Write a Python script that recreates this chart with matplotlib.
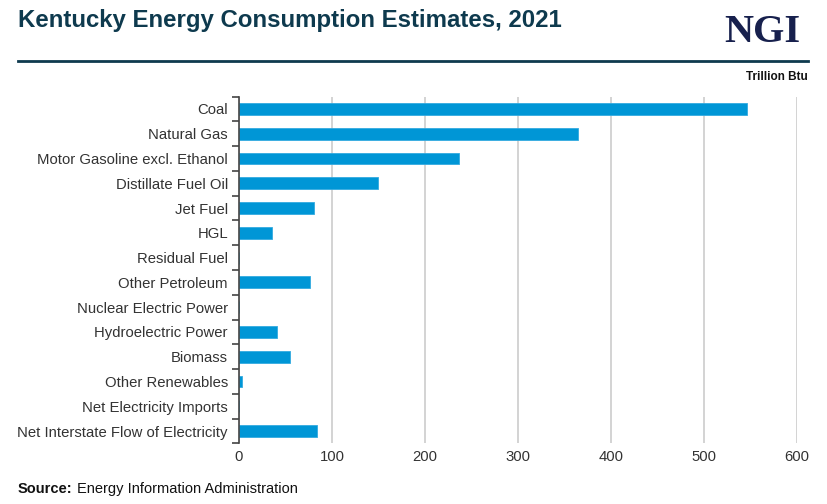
import matplotlib
matplotlib.use("Agg")
import matplotlib.pyplot as plt
import numpy as np

categories = ["Coal", "Natural Gas", "Motor Gasoline excl. Ethanol", "Distillate Fuel Oil",
              "Jet Fuel", "HGL", "Residual Fuel", "Other Petroleum", "Nuclear Electric Power",
              "Hydroelectric Power", "Biomass", "Other Renewables", "Net Electricity Imports",
              "Net Interstate Flow of Electricity"]
values = [546, 364, 237, 150, 81, 35, 0, 76, 0, 41, 54.5, 3, 0, 84]
xticks = [0, 100, 200, 300, 400, 500, 600]

plt.rcParams['font.family'] = ['Liberation Sans', 'DejaVu Sans']

fig = plt.figure(figsize=(8.28, 5.04), dpi=100)
ax = fig.add_axes([239/828, 1-443.4/504, (797-239)/828, (443.4-96.6)/504])

n = len(categories)
y = np.arange(n)
ax.barh(y, values, height=0.48, color="#0096d6", edgecolor="#33aae0", linewidth=0.6, zorder=3)
ax.set_ylim(n - 0.5, -0.5)
ax.set_xlim(0, 600)
ax.set_xticks(xticks)
ax.set_xticklabels([str(v) for v in xticks], fontsize=10.7, color="#333333")
ax.tick_params(axis='x', length=0, pad=5)
ax.set_yticks(y)
ax.set_yticklabels(categories, fontsize=10.7, color="#333333")
ax.tick_params(axis='y', which='major', length=0, pad=8)
ax.set_yticks(np.arange(n + 1) - 0.5, minor=True)
ax.tick_params(axis='y', which='minor', length=5, width=1.2, color="#444444", direction='out')
ax.grid(axis='x', color="#cccccc", linewidth=1.2, zorder=0)
for s in ['top', 'right', 'bottom']:
    ax.spines[s].set_visible(False)
ax.spines['left'].set_color("#444444")
ax.spines['left'].set_linewidth(1.2)
ax.spines['left'].set_zorder(4)

title_color = "#0e3a4e"
fig.text(18/828, 1-21/504, "Kentucky Energy Consumption Estimates, 2021", fontsize=17.3,
         fontweight='bold', color=title_color, ha='left', va='center')
fig.text(800/828, 1-33/504, "NGI", fontsize=29, fontweight='bold', color="#17204d",
         family=['Liberation Serif', 'DejaVu Serif'], ha='right', va='center')
fig.add_artist(plt.Line2D([18/828, 808/828], [1-61/504, 1-61/504], color=title_color,
                          linewidth=2, transform=fig.transFigure))
fig.text(808/828, 1-77/504, "Trillion Btu", fontsize=8.5, fontweight='bold', color="#111111",
         ha='right', va='center')
t = fig.text(18/828, 1-489/504, "Source:", fontsize=10.5, fontweight='bold', color="#111111",
             ha='left', va='center')
fig.canvas.draw()
bb = t.get_window_extent()
fig.text((bb.x1 + 4)/828, 1-489/504, "Energy Information Administration", fontsize=10.5,
         color="#111111", ha='left', va='center')

fig.savefig("out.png", dpi=100)
